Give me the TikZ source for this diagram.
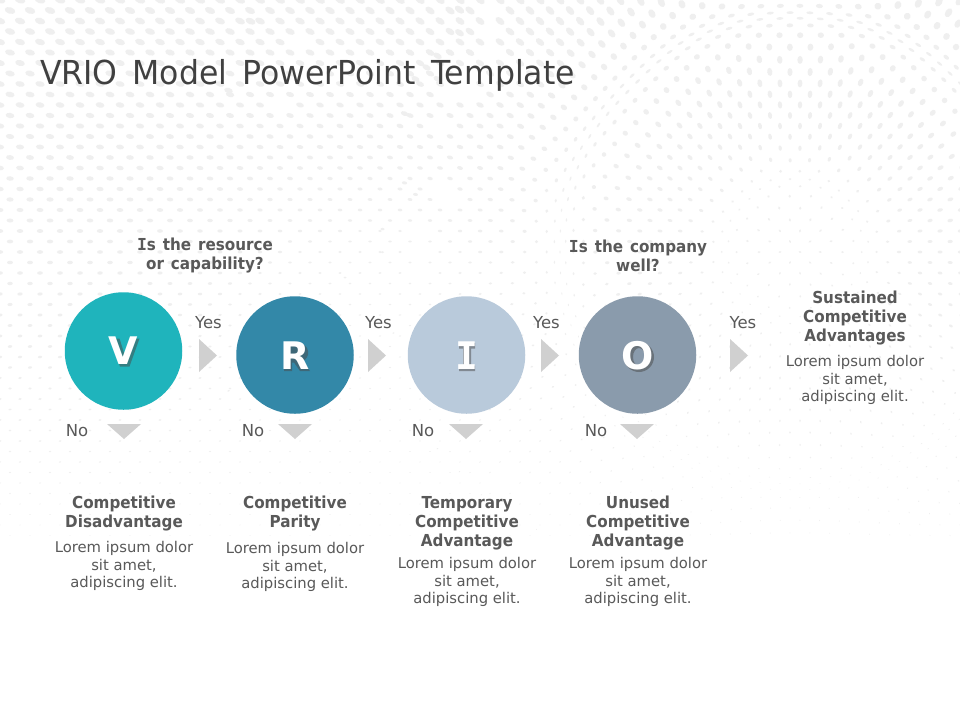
\documentclass[tikz,border=0pt]{standalone}
\usepackage{fontspec}
\setmainfont{DejaVu Sans}
\newfontfamily\slabfont{DejaVu Sans Mono}[BoldFont={DejaVu Sans Mono Bold}]
\newfontfamily\titlefont{DejaVu Sans}[FakeStretch=0.955,WordSpace=1.5]
\newfontfamily\headfont{DejaVu Sans}[FakeStretch=0.92,WordSpace=1.3]
\definecolor{txt}{HTML}{595959}
\definecolor{ttl}{HTML}{404040}
\definecolor{arr}{HTML}{D0D0D0}
\definecolor{dotc}{HTML}{EFEFEF}
\definecolor{shade}{HTML}{4A4A4A}
\definecolor{cV}{HTML}{1FB4BC}
\definecolor{cR}{HTML}{3388A8}
\definecolor{cI}{HTML}{B9CADB}
\definecolor{cO}{HTML}{8A9BAC}
\tikzset{
  x=1pt,y=-1pt,
  disc/.style={circle,minimum size=117.5pt,inner sep=0pt},
  letter/.style={text=white,inner sep=0pt,font=\fontsize{38}{38}\selectfont\bfseries},
  head/.style={align=center,text=txt,font=\headfont\fontsize{16.5}{19}\selectfont\bfseries,inner sep=0pt},
  body/.style={align=center,text=txt,font=\fontsize{14.8}{17.7}\selectfont,inner sep=0pt},
  lab/.style={text=txt,font=\fontsize{16.5}{18}\selectfont,inner sep=0pt},
  tri/.style={fill=arr,draw=none},
  shd/.style={fill=shade,opacity=.5,draw=none},
}
\begin{document}
\begin{tikzpicture}
\useasboundingbox (0,0) rectangle (960,720);
\fill[white] (0,0) rectangle (960,720);
% background dot field: lattice warped radially about a centre near (795,250)
\foreach \j in {-2,...,62}{
  \foreach \i in {-2,...,50}{
    \pgfmathsetmacro{\px}{\i*20+10*mod(abs(\j),2)}
    \pgfmathsetmacro{\py}{\j*10.5}
    \pgfmathsetmacro{\dx}{\px-795}
    \pgfmathsetmacro{\dy}{\py-250}
    \pgfmathsetmacro{\rr}{max(1,veclen(\dx,\dy))}
    \pgfmathsetmacro{\ua}{min(4.5,abs(\rr-235)/34)}
    \pgfmathsetmacro{\ub}{min(4.5,abs(\rr-70)/22)}
    \pgfmathsetmacro{\rn}{\rr+16*(235-\rr)/34*exp(-\ua*\ua)+8*(70-\rr)/22*exp(-\ub*\ub)}
    \pgfmathsetmacro{\qq}{\rn/\rr}
    \pgfmathsetmacro{\wx}{795+\dx*\qq}
    \pgfmathsetmacro{\wy}{250+\dy*\qq}
    \pgfmathsetmacro{\fade}{max(0,1-\wy/620)^1.1}
    \pgfmathsetmacro{\uc}{min(4.5,\rn/150)}
    \pgfmathsetmacro{\ud}{min(4.5,veclen(\wx-380,\wy-320)/190)}
    \pgfmathsetmacro{\base}{4.6*\fade*(1-.5*exp(-\uc*\uc))*(1-.5*exp(-\ud*\ud))}
    \pgfmathsetmacro{\sr}{max(.3,1.2-.9*exp(-\ua*\ua)-.65*exp(-\ub*\ub))}
    \pgfmathsetmacro{\st}{.72+.1*exp(-\ua*\ua)}
    \ifdim\base pt>0.45pt
      \pgfmathsetmacro{\ang}{atan2(-\dy,\dx)}
      \fill[dotc,shift={(\wx,\wy)},rotate=\ang] (0,0) ellipse [x radius=\base*\sr,y radius=\base*\st];
    \fi
  }
}
% title
\node[anchor=west,text=ttl,inner sep=0pt,font=\titlefont\fontsize{33}{36}\selectfont] (title) at (40,75) {VRIO Model PowerPoint Template};
% discs
\node[disc,fill=cV] (v) at (123.5,351) {};
\node[disc,fill=cR] (r) at (295,355) {};
\node[disc,fill=cI] (i) at (466.5,355) {};
\node[disc,fill=cO] (o) at (637.5,355) {};
% letter shadows (drawn as shapes)
\fill[shd] (110,338.5) -- (119.5,338.5) -- (125,356) -- (130.5,338.5) -- (139.5,338.5) -- (129.5,366.5) -- (120,366.5) -- cycle;
\fill[shd] (284,343) -- (297,343) .. controls (311,343) and (311,359) .. (302,361) -- (310,371) -- (300,371) -- (294,362.5) -- (292,362.5) -- (292,371) -- (284,371) -- cycle;
\fill[shd] (459,343) -- (475,343) -- (475,348.5) -- (471,348.5) -- (471,365.5) -- (475,365.5) -- (475,371) -- (459,371) -- (459,365.5) -- (463,365.5) -- (463,348.5) -- (459,348.5) -- cycle;
\fill[shd,even odd rule] (639,357) ellipse [x radius=15,y radius=15] (639,357) ellipse [x radius=6,y radius=9];
% letters
\node[letter] (vt) at (123.5,351) {V};
\node[letter] (rt) at (295,355.5) {R};
\node[letter,font=\slabfont\fontsize{38}{38}\selectfont\bfseries] (it) at (466.5,355.5) {I};
\node[letter] (ot) at (637.5,355.5) {O};
% questions
\node[head] (q1) at (205,256) {{\slabfont I}s the resource\\or capability?};
\node[head] (q2) at (638,256) {{\slabfont I}s the company\\well?};
% yes arrows
\foreach \x in {199,368,541,730}{
  \fill[tri] (\x,339) -- (\x+18,355.5) -- (\x,372) -- cycle;
}
\node[lab] (y1) at (208.5,323) {Yes};
\node[lab] (y2) at (378.5,323) {Yes};
\node[lab] (y3) at (546.5,323) {Yes};
\node[lab] (y4) at (743,323) {Yes};
% no arrows
\foreach \x in {124,295,466,637}{
  \fill[tri] (\x-17,424) -- (\x+17,424) -- (\x,439) -- cycle;
}
\node[lab] (n1) at (77,431) {No};
\node[lab] (n2) at (253,431) {No};
\node[lab] (n3) at (423,431) {No};
\node[lab] (n4) at (596,431) {No};
% outcomes
\node[head,anchor=north] (h1) at (124,496) {Competitive\\Disadvantage};
\node[body,anchor=north] (b1) at (124,541) {Lorem ipsum dolor\\sit amet,\\adipiscing elit.};
\node[head,anchor=north] (h2) at (295,496) {Competitive\\Parity};
\node[body,anchor=north] (b2) at (295,542) {Lorem ipsum dolor\\sit amet,\\adipiscing elit.};
\node[head,anchor=north] (h3) at (467,496) {Temporary\\Competitive\\Advantage};
\node[body,anchor=north] (b3) at (467,557) {Lorem ipsum dolor\\sit amet,\\adipiscing elit.};
\node[head,anchor=north] (h4) at (638,496) {Unused\\Competitive\\Advantage};
\node[body,anchor=north] (b4) at (638,557) {Lorem ipsum dolor\\sit amet,\\adipiscing elit.};
\node[head,anchor=north] (h5) at (855,291) {Sustained\\Competitive\\Advantages};
\node[body,anchor=north] (b5) at (855,355) {Lorem ipsum dolor\\sit amet,\\adipiscing elit.};
\end{tikzpicture}
\end{document}
